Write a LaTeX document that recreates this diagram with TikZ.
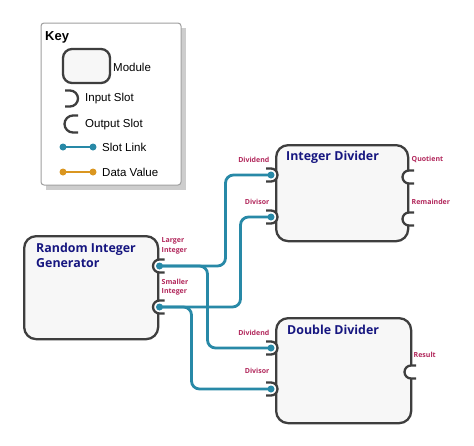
\documentclass[tikz,border=0pt]{standalone}
\usepackage{fontspec}
\setmainfont{Liberation Sans}
\newfontfamily\modfont{Open Sans}
\usetikzlibrary{calc}
\definecolor{linkblue}{RGB}{40,137,167}
\definecolor{dataorange}{RGB}{218,150,32}
\definecolor{modgray}{RGB}{247,247,247}
\definecolor{modedge}{RGB}{62,62,62}
\definecolor{titleblue}{RGB}{22,22,128}
\definecolor{portred}{RGB}{178,40,92}
\definecolor{keyshade}{RGB}{205,205,205}
\tikzset{
	module/.style={draw=modedge, fill=modgray, line width=2.3pt, rounded corners=12pt, anchor=north west, inner sep=0pt},
	modtitle/.style={anchor=north west, text=titleblue, font=\modfont\bfseries\fontsize{12.4}{15}\selectfont, align=left, inner sep=0pt},
	port/.style={text=portred, font=\modfont\bfseries\fontsize{7}{9.5}\selectfont, inner sep=0.5pt, align=left},
	slotline/.style={draw=modedge, line width=2.3pt},
	link/.style={draw=linkblue, line width=2.8pt, rounded corners=8pt},
	keytext/.style={anchor=west, font=\fontsize{11.5}{13}\selectfont, inner sep=0pt}
}
% slot at centre (x,y), radius r, named #4
\def\inslot(#1,#2:#3)[#4]{%
	\fill[white] (#1-5,#2-#3) -- (#1,#2-#3) arc (-90:90:#3) -- (#1-5,#2+#3) -- cycle;
	\draw[slotline] (#1-5,#2-#3) -- (#1,#2-#3) arc (-90:90:#3) -- (#1-5,#2+#3);
	\coordinate (#4) at (#1,#2);}
\def\outslot(#1,#2:#3)[#4]{%
	\fill[white] (#1+5,#2-#3) -- (#1,#2-#3) arc (-90:-270:#3) -- (#1+5,#2+#3) -- cycle;
	\draw[slotline] (#1+5,#2-#3) -- (#1,#2-#3) arc (-90:-270:#3) -- (#1+5,#2+#3);
	\coordinate (#4) at (#1,#2);}

\begin{document}
\begin{tikzpicture}[x=1pt, y=-1pt]
	%%%%% START %%%%%
	\useasboundingbox[fill=white] (0,0) rectangle (474,445);
	
	% key
	\fill[keyshade] (46,28) rectangle (186,190);
	\draw[fill=white, draw=gray!75, line width=1pt, rounded corners=3pt] (41,23) rectangle (181,185);
	\node[keytext, font=\bfseries\fontsize{13}{15}\selectfont] (keytitle) at (45,37) {Key};
	
	\draw[slotline, fill=modgray, rounded corners=9pt] (63,49) rectangle (110,83);
	\node[keytext] (keymod) at (113,67) {Module};
	
	\inslot(70,98.5:8)[keyin]
	\node[keytext] (keyinput) at (85,99) {Input Slot};
	
	\outslot(73,124:8.5)[keyout]
	\node[keytext] (keyoutput) at (85,125) {Output Slot};
	
	\coordinate (linka) at (63,147);
	\coordinate (linkb) at (93,147);
	\draw[link] (linka) -- (linkb);
	\fill[linkblue] (linka) circle (3.5) (linkb) circle (3.5);
	\node[keytext] (keylink) at (102,147) {Slot Link};
	
	\coordinate (dataa) at (63,172);
	\coordinate (datab) at (93,172);
	\draw[link, draw=dataorange] (dataa) -- (datab);
	\fill[dataorange] (dataa) circle (3.5) (datab) circle (3.5);
	\node[keytext] (keydata) at (102,172) {Data Value};
	
	% modules
	\node[module, minimum width=134pt, minimum height=103pt] (randgen) at (23,235) {};
	\node[modtitle] (randgentitle) at (36,243) {Random Integer\\Generator};
	\outslot(159.5,266:6.5)[larger]
	\outslot(159.5,307:6.5)[smaller]
	\node[port, anchor=west] (largerlbl) at (161,246) {Larger\\Integer};
	\node[port, anchor=west] (smallerlbl) at (161,287) {Smaller\\Integer};
	
	\node[module, minimum width=132pt, minimum height=96pt] (intdiv) at (275,144) {};
	\node[modtitle] (intdivtitle) at (286,151) {Integer Divider};
	\inslot(271,175:6.5)[intdend]
	\inslot(271,217:6.5)[intdsor]
	\outslot(409,177:6.5)[intquot]
	\outslot(409,219:6.5)[intrem]
	\node[port, anchor=east] (intdendlbl) at (270,160) {Dividend};
	\node[port, anchor=east] (intdsorlbl) at (270,202) {Divisor};
	\node[port, anchor=west] (intquotlbl) at (411,159) {Quotient};
	\node[port, anchor=west] (intremlbl) at (411,202) {Remainder};
	
	\node[module, minimum width=135pt, minimum height=105pt] (dbldiv) at (275,317) {};
	\node[modtitle] (dbldivtitle) at (287,325) {Double Divider};
	\inslot(271,348:6.5)[dbldend]
	\inslot(271,389:6.5)[dbldsor]
	\outslot(411,372:6.5)[dblres]
	\node[port, anchor=east] (dbldendlbl) at (270,333) {Dividend};
	\node[port, anchor=east] (dbldsorlbl) at (270,371) {Divisor};
	\node[port, anchor=west] (dblreslbl) at (413,355) {Result};
	
	% links
	\draw[link] (larger) -- ++(66,0) |- (intdend);
	\draw[link] (larger) -- ++(48,0) |- (dbldend);
	\draw[link] (smaller) -- ++(81,0) |- (intdsor);
	\draw[link] (smaller) -- ++(32,0) |- (dbldsor);
	\foreach \s in {larger,smaller,intdend,intdsor,dbldend,dbldsor}
		\fill[linkblue] (\s) circle (3.5);
	
	%%%%% END %%%%%
\end{tikzpicture}
\end{document}
